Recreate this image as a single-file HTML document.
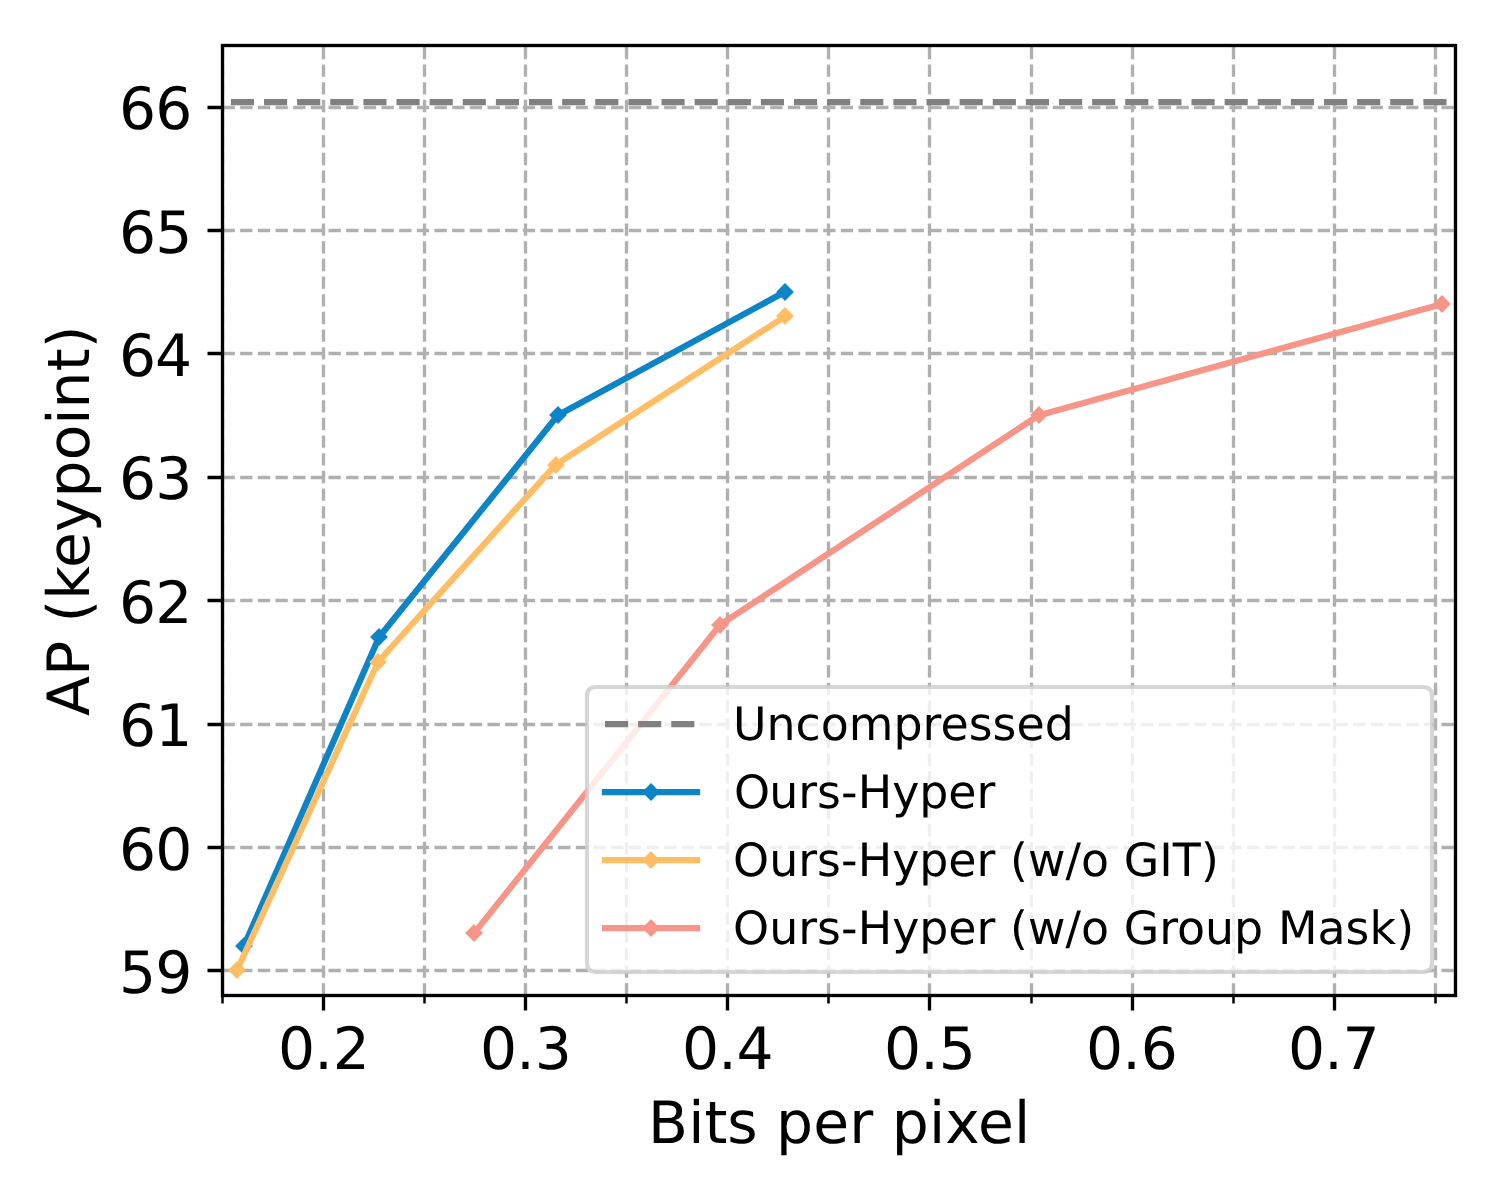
<!DOCTYPE html>
<html lang="en"><head><meta charset="utf-8"><title>AP (keypoint) vs Bits per pixel</title>
<style>
html,body{margin:0;padding:0;background:#fff}
body{width:1500px;height:1200px;overflow:hidden}
svg{display:block;text-rendering:geometricPrecision}
</style></head><body>
<svg width="1500" height="1200" viewBox="0 0 1500 1200">
<defs><clipPath id="axclip"><rect x="222.208" y="45" width="1232.792" height="950.167"/></clipPath></defs>
<rect width="1500" height="1200" fill="#fff"/>
<g clip-path="url(#axclip)" fill="none">
<path d="M222.5 995.5V45.5M323.5 995.5V45.5M424.5 995.5V45.5M525.5 995.5V45.5M626.5 995.5V45.5M727.5 995.5V45.5M828.5 995.5V45.5M929.5 995.5V45.5M1031.5 995.5V45.5M1132.5 995.5V45.5M1233.5 995.5V45.5M1334.5 995.5V45.5M1435.5 995.5V45.5M222.5 970.5H1455.5M222.5 847.5H1455.5M222.5 724.5H1455.5M222.5 600.5H1455.5M222.5 477.5H1455.5M222.5 353.5H1455.5M222.5 230.5H1455.5M222.5 107.5H1455.5" stroke="#b0b0b0" stroke-width="3.333" stroke-dasharray="12.333 5.333"/>
<path d="M-1 102H1501" stroke="#808080" stroke-width="6.25" stroke-dasharray="23.125 10"/>
<path d="M244.03 945.81L379.04 637.31L557.89 415.19L785.05 291.8" stroke="#0c84c6" stroke-width="6.25" stroke-linecap="square" stroke-linejoin="round"/>
<path d="M244 937.1L252.9 946L244 954.9L235.1 946ZM379 628.1L387.9 637L379 645.9L370.1 637ZM558 406.1L566.9 415L558 423.9L549.1 415ZM785 283.1L793.9 292L785 300.9L776.1 292Z" fill="#0c84c6"/>
<path d="M236.96 970.49L378.03 661.99L555.87 464.55L785.05 316.48" stroke="#ffbd66" stroke-width="6.25" stroke-linecap="square" stroke-linejoin="round"/>
<path d="M237 961.1L245.9 970L237 978.9L228.1 970ZM378 653.1L386.9 662L378 670.9L369.1 662ZM556 456.1L564.9 465L556 473.9L547.1 465ZM785 307.1L793.9 316L785 324.9L776.1 316Z" fill="#ffbd66"/>
<path d="M474.02 933.47L719.97 624.97L1039.08 415.19L1442.07 304.14" stroke="#f79588" stroke-width="6.25" stroke-linecap="square" stroke-linejoin="round"/>
<path d="M474 924.1L482.9 933L474 941.9L465.1 933ZM720 616.1L728.9 625L720 633.9L711.1 625ZM1039 406.1L1047.9 415L1039 423.9L1030.1 415ZM1442 295.1L1450.9 304L1442 312.9L1433.1 304Z" fill="#f79588"/>
</g>
<path d="M323.5 995.5V1010.5M525.5 995.5V1010.5M727.5 995.5V1010.5M929.5 995.5V1010.5M1132.5 995.5V1010.5M1334.5 995.5V1010.5M222.5 970.5H207.5M222.5 847.5H207.5M222.5 724.5H207.5M222.5 600.5H207.5M222.5 477.5H207.5M222.5 353.5H207.5M222.5 230.5H207.5M222.5 107.5H207.5" stroke="#000" stroke-width="3.333" fill="none"/>
<path d="M222.5 995.5V1003.5M424.5 995.5V1003.5M626.5 995.5V1003.5M828.5 995.5V1003.5M1031.5 995.5V1003.5M1233.5 995.5V1003.5M1435.5 995.5V1003.5" stroke="#000" stroke-width="2.5" fill="none"/>
<rect x="222.5" y="45.5" width="1233" height="950" fill="none" stroke="#000" stroke-width="3.333"/>
<g font-family="'DejaVu Sans', 'Liberation Sans', sans-serif" font-size="58.333" fill="#000">
<text x="277.875 314.125 332.625" y="1068.5">0.2</text>
<text x="479.875 516.125 534.625" y="1068.5">0.3</text>
<text x="681.875 718.125 736.375" y="1068.5">0.4</text>
<text x="883.875 920.125 938.625" y="1068.5">0.5</text>
<text x="1085.875 1122.125 1140.625" y="1068.5">0.6</text>
<text x="1287.875 1324.125 1342.375" y="1068.5">0.7</text>
<text x="118.875 155.125" y="992.5">59</text>
<text x="118.875 155.125" y="869.5">60</text>
<text x="118.875 155.125" y="745.5">61</text>
<text x="118.875 155.125" y="622.5">62</text>
<text x="118.875 155.125" y="498.5">63</text>
<text x="118.875 154.875" y="375.5">64</text>
<text x="118.875 155.125" y="252.5">65</text>
<text x="118.875 155.125" y="128.5">66</text>
<text x="647.875 688.125 704.375 727.125 757.375 775.875 813.125 849.125 873.125 891.625 928.875 945.125 977.875 1013.875" y="1142.5">Bits per pixel</text>
<text transform="translate(88.5 716) rotate(-90)" x="0 40 75.125 93.5 116.25 148 184 218.5 255.75 291.25 307.5 344.75 367.75">AP (keypoint)</text>
</g>
<path d="M596.167 687H1422.833Q1432 687 1432 696.167V962.833Q1432 972 1422.833 972H596.167Q587 972 587 962.833V696.167Q587 687 596.167 687Z" fill="#fff" fill-opacity=".8" stroke="#ccc" stroke-opacity=".8" stroke-width="4.167"/>
<path d="M605 724H697" stroke="#808080" stroke-width="6.25" stroke-dasharray="23.125 10" fill="none"/>
<path d="M605 792H697" stroke="#0c84c6" stroke-width="6.25" stroke-linecap="square" fill="none"/>
<path d="M651 783.1L659.9 792L651 800.9L642.1 792Z" fill="#0c84c6"/>
<path d="M605 860H697" stroke="#ffbd66" stroke-width="6.25" stroke-linecap="square" fill="none"/>
<path d="M651 851.1L659.9 860L651 868.9L642.1 860Z" fill="#ffbd66"/>
<path d="M605 928H697" stroke="#f79588" stroke-width="6.25" stroke-linecap="square" fill="none"/>
<path d="M651 919.1L659.9 928L651 936.9L642.1 928Z" fill="#f79588"/>
<g font-family="'DejaVu Sans', 'Liberation Sans', sans-serif" font-size="45.833" fill="#000">
<text x="732.875 766.375 795.375 820.625 848.625 893.375 922.375 940.375 968.625 992.375 1016.375 1044.625" y="739.5">Uncompressed</text>
<text x="733.875 769.125 798.125 816.875 840.875 857.625 892.125 919.125 948.125 976.375" y="807.5">Ours-Hyper</text>
<text x="732.875 769.125 798.125 816.875 840.875 857.625 892.125 919.125 948.125 976.375 995.25 1009.875 1027.875 1065.375 1080.875 1109 1123.625 1159.125 1172.625 1200.875" y="875.5">Ours-Hyper (w/o GIT)</text>
<text x="732.875 769.125 798.125 816.875 840.875 857.625 892.125 919.125 948.125 976.375 995.25 1009.875 1027.875 1065.375 1080.875 1109 1123.625 1159.125 1176.875 1204.875 1233.875 1263.125 1277.875 1317.375 1345.375 1369.375 1396.125" y="943.5">Ours-Hyper (w/o Group Mask)</text>
</g>
</svg>
</body></html>
